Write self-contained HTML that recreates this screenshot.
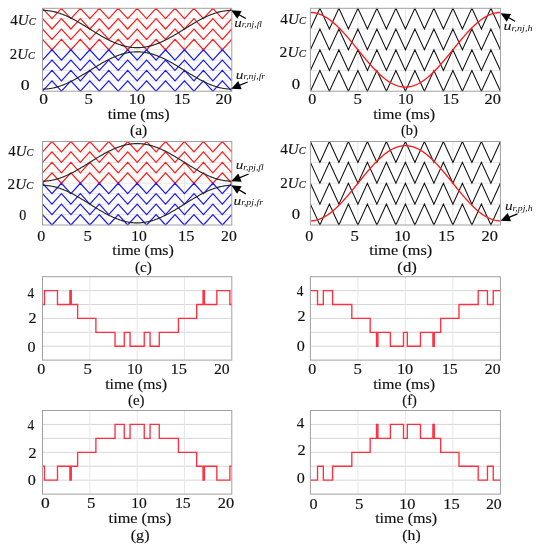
<!DOCTYPE html>
<html><head><meta charset="utf-8"><title>Carrier and reference waveforms</title>
<style>
html,body{margin:0;padding:0;background:#fff;}
svg{display:block;}
text{font-family:"Liberation Serif","DejaVu Serif",serif;fill:#111;stroke:#111;stroke-width:0.15px;}
</style></head><body>
<svg width="540" height="550" viewBox="0 0 540 550">
<defs><clipPath id="cp0"><rect x="42.5" y="7.8" width="189.3" height="83.9"/></clipPath><clipPath id="cp1"><rect x="310.4" y="7.8" width="190" height="83.9"/></clipPath><clipPath id="cp2"><rect x="42.5" y="141" width="189.3" height="84.5"/></clipPath><clipPath id="cp3"><rect x="310.4" y="141" width="190" height="84.5"/></clipPath></defs>
<rect width="540" height="550" fill="#fff"/>
<path d="M42.5 80.84H231.8M42.5 70.47H231.8M42.5 60.11H231.8M42.5 49.75H231.8M42.5 39.39H231.8M42.5 29.02H231.8M42.5 18.66H231.8" stroke="#e2e2e2" stroke-width="0.9" fill="none"/>
<path d="M89.83 8.3V91.2M137.15 8.3V91.2M184.47 8.3V91.2" stroke="#e3e3e3" stroke-width="0.9" fill="none"/>
<g clip-path="url(#cp0)">
<path d="M42.5 39.39 L51.97 49.75 L61.43 39.39 L70.9 49.75 L80.36 39.39 L89.83 49.75 L99.29 39.39 L108.76 49.75 L118.22 39.39 L127.69 49.75 L137.15 39.39 L146.62 49.75 L156.08 39.39 L165.55 49.75 L175.01 39.39 L184.47 49.75 L193.94 39.39 L203.41 49.75 L212.87 39.39 L222.34 49.75 L231.8 39.39" stroke="#ff1a1a" stroke-width="1.2" fill="none" stroke-linejoin="miter"/>
<path d="M42.5 29.02 L51.97 39.39 L61.43 29.02 L70.9 39.39 L80.36 29.02 L89.83 39.39 L99.29 29.02 L108.76 39.39 L118.22 29.02 L127.69 39.39 L137.15 29.02 L146.62 39.39 L156.08 29.02 L165.55 39.39 L175.01 29.02 L184.47 39.39 L193.94 29.02 L203.41 39.39 L212.87 29.02 L222.34 39.39 L231.8 29.02" stroke="#ff1a1a" stroke-width="1.2" fill="none" stroke-linejoin="miter"/>
<path d="M42.5 18.66 L51.97 29.02 L61.43 18.66 L70.9 29.02 L80.36 18.66 L89.83 29.02 L99.29 18.66 L108.76 29.02 L118.22 18.66 L127.69 29.02 L137.15 18.66 L146.62 29.02 L156.08 18.66 L165.55 29.02 L175.01 18.66 L184.47 29.02 L193.94 18.66 L203.41 29.02 L212.87 18.66 L222.34 29.02 L231.8 18.66" stroke="#ff1a1a" stroke-width="1.2" fill="none" stroke-linejoin="miter"/>
<path d="M42.5 8.3 L51.97 18.66 L61.43 8.3 L70.9 18.66 L80.36 8.3 L89.83 18.66 L99.29 8.3 L108.76 18.66 L118.22 8.3 L127.69 18.66 L137.15 8.3 L146.62 18.66 L156.08 8.3 L165.55 18.66 L175.01 8.3 L184.47 18.66 L193.94 8.3 L203.41 18.66 L212.87 8.3 L222.34 18.66 L231.8 8.3" stroke="#ff1a1a" stroke-width="1.2" fill="none" stroke-linejoin="miter"/>
<path d="M42.5 91.2 L51.97 80.84 L61.43 91.2 L70.9 80.84 L80.36 91.2 L89.83 80.84 L99.29 91.2 L108.76 80.84 L118.22 91.2 L127.69 80.84 L137.15 91.2 L146.62 80.84 L156.08 91.2 L165.55 80.84 L175.01 91.2 L184.47 80.84 L193.94 91.2 L203.41 80.84 L212.87 91.2 L222.34 80.84 L231.8 91.2" stroke="#1a1aff" stroke-width="1.2" fill="none" stroke-linejoin="miter"/>
<path d="M42.5 80.84 L51.97 70.47 L61.43 80.84 L70.9 70.47 L80.36 80.84 L89.83 70.47 L99.29 80.84 L108.76 70.47 L118.22 80.84 L127.69 70.47 L137.15 80.84 L146.62 70.47 L156.08 80.84 L165.55 70.47 L175.01 80.84 L184.47 70.47 L193.94 80.84 L203.41 70.47 L212.87 80.84 L222.34 70.47 L231.8 80.84" stroke="#1a1aff" stroke-width="1.2" fill="none" stroke-linejoin="miter"/>
<path d="M42.5 70.47 L51.97 60.11 L61.43 70.47 L70.9 60.11 L80.36 70.47 L89.83 60.11 L99.29 70.47 L108.76 60.11 L118.22 70.47 L127.69 60.11 L137.15 70.47 L146.62 60.11 L156.08 70.47 L165.55 60.11 L175.01 70.47 L184.47 60.11 L193.94 70.47 L203.41 60.11 L212.87 70.47 L222.34 60.11 L231.8 70.47" stroke="#1a1aff" stroke-width="1.2" fill="none" stroke-linejoin="miter"/>
<path d="M42.5 60.11 L51.97 49.75 L61.43 60.11 L70.9 49.75 L80.36 60.11 L89.83 49.75 L99.29 60.11 L108.76 49.75 L118.22 60.11 L127.69 49.75 L137.15 60.11 L146.62 49.75 L156.08 60.11 L165.55 49.75 L175.01 60.11 L184.47 49.75 L193.94 60.11 L203.41 49.75 L212.87 60.11 L222.34 49.75 L231.8 60.11" stroke="#1a1aff" stroke-width="1.2" fill="none" stroke-linejoin="miter"/>
<path d="M42.5 10.37 L43.45 10.38 L44.39 10.41 L45.34 10.46 L46.29 10.52 L47.23 10.6 L48.18 10.7 L49.13 10.82 L50.07 10.96 L51.02 11.11 L51.97 11.29 L52.91 11.48 L53.86 11.68 L54.8 11.91 L55.75 12.15 L56.7 12.41 L57.64 12.68 L58.59 12.97 L59.54 13.28 L60.48 13.6 L61.43 13.93 L62.38 14.29 L63.32 14.65 L64.27 15.03 L65.22 15.43 L66.16 15.84 L67.11 16.26 L68.06 16.69 L69 17.14 L69.95 17.59 L70.9 18.06 L71.84 18.54 L72.79 19.03 L73.73 19.53 L74.68 20.04 L75.63 20.56 L76.57 21.08 L77.52 21.62 L78.47 22.16 L79.41 22.71 L80.36 23.26 L81.31 23.82 L82.25 24.39 L83.2 24.96 L84.15 25.53 L85.09 26.11 L86.04 26.69 L86.99 27.27 L87.93 27.85 L88.88 28.44 L89.83 29.02 L90.77 29.61 L91.72 30.2 L92.66 30.78 L93.61 31.36 L94.56 31.94 L95.5 32.52 L96.45 33.09 L97.4 33.66 L98.34 34.23 L99.29 34.79 L100.24 35.34 L101.18 35.89 L102.13 36.43 L103.08 36.97 L104.02 37.49 L104.97 38.01 L105.92 38.52 L106.86 39.02 L107.81 39.51 L108.76 39.99 L109.7 40.46 L110.65 40.91 L111.59 41.36 L112.54 41.79 L113.49 42.21 L114.43 42.62 L115.38 43.02 L116.33 43.4 L117.27 43.76 L118.22 44.12 L119.17 44.45 L120.11 44.77 L121.06 45.08 L122.01 45.37 L122.95 45.64 L123.9 45.9 L124.85 46.14 L125.79 46.37 L126.74 46.57 L127.69 46.76 L128.63 46.94 L129.58 47.09 L130.52 47.23 L131.47 47.35 L132.42 47.45 L133.36 47.53 L134.31 47.59 L135.26 47.64 L136.2 47.67 L137.15 47.68 L138.1 47.67 L139.04 47.64 L139.99 47.59 L140.94 47.53 L141.88 47.45 L142.83 47.35 L143.78 47.23 L144.72 47.09 L145.67 46.94 L146.62 46.76 L147.56 46.57 L148.51 46.37 L149.45 46.14 L150.4 45.9 L151.35 45.64 L152.29 45.37 L153.24 45.08 L154.19 44.77 L155.13 44.45 L156.08 44.12 L157.03 43.76 L157.97 43.4 L158.92 43.02 L159.87 42.62 L160.81 42.21 L161.76 41.79 L162.71 41.36 L163.65 40.91 L164.6 40.46 L165.55 39.99 L166.49 39.51 L167.44 39.02 L168.38 38.52 L169.33 38.01 L170.28 37.49 L171.22 36.97 L172.17 36.43 L173.12 35.89 L174.06 35.34 L175.01 34.79 L175.96 34.23 L176.9 33.66 L177.85 33.09 L178.8 32.52 L179.74 31.94 L180.69 31.36 L181.64 30.78 L182.58 30.2 L183.53 29.61 L184.47 29.02 L185.42 28.44 L186.37 27.85 L187.31 27.27 L188.26 26.69 L189.21 26.11 L190.15 25.53 L191.1 24.96 L192.05 24.39 L192.99 23.82 L193.94 23.26 L194.89 22.71 L195.83 22.16 L196.78 21.62 L197.73 21.08 L198.67 20.56 L199.62 20.04 L200.57 19.53 L201.51 19.03 L202.46 18.54 L203.41 18.06 L204.35 17.59 L205.3 17.14 L206.24 16.69 L207.19 16.26 L208.14 15.84 L209.08 15.43 L210.03 15.03 L210.98 14.65 L211.92 14.29 L212.87 13.93 L213.82 13.6 L214.76 13.28 L215.71 12.97 L216.66 12.68 L217.6 12.41 L218.55 12.15 L219.5 11.91 L220.44 11.68 L221.39 11.48 L222.34 11.29 L223.28 11.11 L224.23 10.96 L225.17 10.82 L226.12 10.7 L227.07 10.6 L228.01 10.52 L228.96 10.46 L229.91 10.41 L230.85 10.38 L231.8 10.37" stroke="#262626" stroke-width="1.15" fill="none"/>
<path d="M42.5 89.13 L43.45 89.12 L44.39 89.09 L45.34 89.04 L46.29 88.98 L47.23 88.9 L48.18 88.8 L49.13 88.68 L50.07 88.54 L51.02 88.39 L51.97 88.21 L52.91 88.02 L53.86 87.82 L54.8 87.59 L55.75 87.35 L56.7 87.09 L57.64 86.82 L58.59 86.53 L59.54 86.22 L60.48 85.9 L61.43 85.57 L62.38 85.21 L63.32 84.85 L64.27 84.47 L65.22 84.07 L66.16 83.66 L67.11 83.24 L68.06 82.81 L69 82.36 L69.95 81.91 L70.9 81.44 L71.84 80.96 L72.79 80.47 L73.73 79.97 L74.68 79.46 L75.63 78.94 L76.57 78.42 L77.52 77.88 L78.47 77.34 L79.41 76.79 L80.36 76.24 L81.31 75.68 L82.25 75.11 L83.2 74.54 L84.15 73.97 L85.09 73.39 L86.04 72.81 L86.99 72.23 L87.93 71.65 L88.88 71.06 L89.83 70.47 L90.77 69.89 L91.72 69.3 L92.66 68.72 L93.61 68.14 L94.56 67.56 L95.5 66.98 L96.45 66.41 L97.4 65.84 L98.34 65.27 L99.29 64.71 L100.24 64.16 L101.18 63.61 L102.13 63.07 L103.08 62.53 L104.02 62.01 L104.97 61.49 L105.92 60.98 L106.86 60.48 L107.81 59.99 L108.76 59.51 L109.7 59.04 L110.65 58.59 L111.59 58.14 L112.54 57.71 L113.49 57.29 L114.43 56.88 L115.38 56.48 L116.33 56.1 L117.27 55.74 L118.22 55.38 L119.17 55.05 L120.11 54.73 L121.06 54.42 L122.01 54.13 L122.95 53.86 L123.9 53.6 L124.85 53.36 L125.79 53.13 L126.74 52.93 L127.69 52.74 L128.63 52.56 L129.58 52.41 L130.52 52.27 L131.47 52.15 L132.42 52.05 L133.36 51.97 L134.31 51.91 L135.26 51.86 L136.2 51.83 L137.15 51.82 L138.1 51.83 L139.04 51.86 L139.99 51.91 L140.94 51.97 L141.88 52.05 L142.83 52.15 L143.78 52.27 L144.72 52.41 L145.67 52.56 L146.62 52.74 L147.56 52.93 L148.51 53.13 L149.45 53.36 L150.4 53.6 L151.35 53.86 L152.29 54.13 L153.24 54.42 L154.19 54.73 L155.13 55.05 L156.08 55.38 L157.03 55.74 L157.97 56.1 L158.92 56.48 L159.87 56.88 L160.81 57.29 L161.76 57.71 L162.71 58.14 L163.65 58.59 L164.6 59.04 L165.55 59.51 L166.49 59.99 L167.44 60.48 L168.38 60.98 L169.33 61.49 L170.28 62.01 L171.22 62.53 L172.17 63.07 L173.12 63.61 L174.06 64.16 L175.01 64.71 L175.96 65.27 L176.9 65.84 L177.85 66.41 L178.8 66.98 L179.74 67.56 L180.69 68.14 L181.64 68.72 L182.58 69.3 L183.53 69.89 L184.47 70.47 L185.42 71.06 L186.37 71.65 L187.31 72.23 L188.26 72.81 L189.21 73.39 L190.15 73.97 L191.1 74.54 L192.05 75.11 L192.99 75.68 L193.94 76.24 L194.89 76.79 L195.83 77.34 L196.78 77.88 L197.73 78.42 L198.67 78.94 L199.62 79.46 L200.57 79.97 L201.51 80.47 L202.46 80.96 L203.41 81.44 L204.35 81.91 L205.3 82.36 L206.24 82.81 L207.19 83.24 L208.14 83.66 L209.08 84.07 L210.03 84.47 L210.98 84.85 L211.92 85.21 L212.87 85.57 L213.82 85.9 L214.76 86.22 L215.71 86.53 L216.66 86.82 L217.6 87.09 L218.55 87.35 L219.5 87.59 L220.44 87.82 L221.39 88.02 L222.34 88.21 L223.28 88.39 L224.23 88.54 L225.17 88.68 L226.12 88.8 L227.07 88.9 L228.01 88.98 L228.96 89.04 L229.91 89.09 L230.85 89.12 L231.8 89.13" stroke="#262626" stroke-width="1.15" fill="none"/>
</g>
<rect x="42.5" y="8.3" width="189.3" height="82.9" fill="none" stroke="#a0a0a0" stroke-width="1.0"/>
<path d="M310.4 70.47H500.4M310.4 49.75H500.4M310.4 29.02H500.4" stroke="#e2e2e2" stroke-width="0.9" fill="none"/>
<path d="M357.9 8.3V91.2M405.4 8.3V91.2M452.9 8.3V91.2" stroke="#e3e3e3" stroke-width="0.9" fill="none"/>
<g clip-path="url(#cp1)">
<path d="M310.4 91.2 L319.9 70.47 L329.4 91.2 L338.9 70.47 L348.4 91.2 L357.9 70.47 L367.4 91.2 L376.9 70.47 L386.4 91.2 L395.9 70.47 L405.4 91.2 L414.9 70.47 L424.4 91.2 L433.9 70.47 L443.4 91.2 L452.9 70.47 L462.4 91.2 L471.9 70.47 L481.4 91.2 L490.9 70.47 L500.4 91.2" stroke="#151515" stroke-width="1.1" fill="none" stroke-linejoin="miter"/>
<path d="M310.4 70.47 L319.9 49.75 L329.4 70.47 L338.9 49.75 L348.4 70.47 L357.9 49.75 L367.4 70.47 L376.9 49.75 L386.4 70.47 L395.9 49.75 L405.4 70.47 L414.9 49.75 L424.4 70.47 L433.9 49.75 L443.4 70.47 L452.9 49.75 L462.4 70.47 L471.9 49.75 L481.4 70.47 L490.9 49.75 L500.4 70.47" stroke="#151515" stroke-width="1.1" fill="none" stroke-linejoin="miter"/>
<path d="M310.4 49.75 L319.9 29.02 L329.4 49.75 L338.9 29.02 L348.4 49.75 L357.9 29.02 L367.4 49.75 L376.9 29.02 L386.4 49.75 L395.9 29.02 L405.4 49.75 L414.9 29.02 L424.4 49.75 L433.9 29.02 L443.4 49.75 L452.9 29.02 L462.4 49.75 L471.9 29.02 L481.4 49.75 L490.9 29.02 L500.4 49.75" stroke="#151515" stroke-width="1.1" fill="none" stroke-linejoin="miter"/>
<path d="M310.4 29.02 L319.9 8.3 L329.4 29.02 L338.9 8.3 L348.4 29.02 L357.9 8.3 L367.4 29.02 L376.9 8.3 L386.4 29.02 L395.9 8.3 L405.4 29.02 L414.9 8.3 L424.4 29.02 L433.9 8.3 L443.4 29.02 L452.9 8.3 L462.4 29.02 L471.9 8.3 L481.4 29.02 L490.9 8.3 L500.4 29.02" stroke="#151515" stroke-width="1.1" fill="none" stroke-linejoin="miter"/>
<path d="M310.4 12.45 L311.35 12.46 L312.3 12.52 L313.25 12.61 L314.2 12.74 L315.15 12.9 L316.1 13.11 L317.05 13.34 L318 13.62 L318.95 13.93 L319.9 14.27 L320.85 14.65 L321.8 15.06 L322.75 15.51 L323.7 16 L324.65 16.51 L325.6 17.06 L326.55 17.64 L327.5 18.25 L328.45 18.9 L329.4 19.57 L330.35 20.27 L331.3 21.01 L332.25 21.77 L333.2 22.56 L334.15 23.37 L335.1 24.21 L336.05 25.08 L337 25.97 L337.95 26.89 L338.9 27.82 L339.85 28.78 L340.8 29.76 L341.75 30.76 L342.7 31.78 L343.65 32.81 L344.6 33.87 L345.55 34.93 L346.5 36.02 L347.45 37.11 L348.4 38.22 L349.35 39.34 L350.3 40.47 L351.25 41.61 L352.2 42.76 L353.15 43.91 L354.1 45.07 L355.05 46.24 L356 47.41 L356.95 48.58 L357.9 49.75 L358.85 50.92 L359.8 52.09 L360.75 53.26 L361.7 54.43 L362.65 55.59 L363.6 56.74 L364.55 57.89 L365.5 59.03 L366.45 60.16 L367.4 61.28 L368.35 62.39 L369.3 63.48 L370.25 64.57 L371.2 65.63 L372.15 66.69 L373.1 67.72 L374.05 68.74 L375 69.74 L375.95 70.72 L376.9 71.68 L377.85 72.61 L378.8 73.53 L379.75 74.42 L380.7 75.29 L381.65 76.13 L382.6 76.94 L383.55 77.73 L384.5 78.49 L385.45 79.23 L386.4 79.93 L387.35 80.6 L388.3 81.25 L389.25 81.86 L390.2 82.44 L391.15 82.99 L392.1 83.5 L393.05 83.99 L394 84.44 L394.95 84.85 L395.9 85.23 L396.85 85.57 L397.8 85.88 L398.75 86.16 L399.7 86.39 L400.65 86.6 L401.6 86.76 L402.55 86.89 L403.5 86.98 L404.45 87.04 L405.4 87.06 L406.35 87.04 L407.3 86.98 L408.25 86.89 L409.2 86.76 L410.15 86.6 L411.1 86.39 L412.05 86.16 L413 85.88 L413.95 85.57 L414.9 85.23 L415.85 84.85 L416.8 84.44 L417.75 83.99 L418.7 83.5 L419.65 82.99 L420.6 82.44 L421.55 81.86 L422.5 81.25 L423.45 80.6 L424.4 79.93 L425.35 79.23 L426.3 78.49 L427.25 77.73 L428.2 76.94 L429.15 76.13 L430.1 75.29 L431.05 74.42 L432 73.53 L432.95 72.61 L433.9 71.68 L434.85 70.72 L435.8 69.74 L436.75 68.74 L437.7 67.72 L438.65 66.69 L439.6 65.63 L440.55 64.57 L441.5 63.48 L442.45 62.39 L443.4 61.28 L444.35 60.16 L445.3 59.03 L446.25 57.89 L447.2 56.74 L448.15 55.59 L449.1 54.43 L450.05 53.26 L451 52.09 L451.95 50.92 L452.9 49.75 L453.85 48.58 L454.8 47.41 L455.75 46.24 L456.7 45.07 L457.65 43.91 L458.6 42.76 L459.55 41.61 L460.5 40.47 L461.45 39.34 L462.4 38.22 L463.35 37.11 L464.3 36.02 L465.25 34.93 L466.2 33.87 L467.15 32.81 L468.1 31.78 L469.05 30.76 L470 29.76 L470.95 28.78 L471.9 27.82 L472.85 26.89 L473.8 25.97 L474.75 25.08 L475.7 24.21 L476.65 23.37 L477.6 22.56 L478.55 21.77 L479.5 21.01 L480.45 20.27 L481.4 19.57 L482.35 18.9 L483.3 18.25 L484.25 17.64 L485.2 17.06 L486.15 16.51 L487.1 16 L488.05 15.51 L489 15.06 L489.95 14.65 L490.9 14.27 L491.85 13.93 L492.8 13.62 L493.75 13.34 L494.7 13.11 L495.65 12.9 L496.6 12.74 L497.55 12.61 L498.5 12.52 L499.45 12.46 L500.4 12.45" stroke="#ff1a1a" stroke-width="1.35" fill="none"/>
</g>
<rect x="310.4" y="8.3" width="190" height="82.9" fill="none" stroke="#a0a0a0" stroke-width="1.0"/>
<path d="M42.5 214.56H231.8M42.5 204.12H231.8M42.5 193.69H231.8M42.5 183.25H231.8M42.5 172.81H231.8M42.5 162.38H231.8M42.5 151.94H231.8" stroke="#e2e2e2" stroke-width="0.9" fill="none"/>
<path d="M89.83 141.5V225M137.15 141.5V225M184.47 141.5V225" stroke="#e3e3e3" stroke-width="0.9" fill="none"/>
<g clip-path="url(#cp2)">
<path d="M42.5 183.25 L51.97 172.81 L61.43 183.25 L70.9 172.81 L80.36 183.25 L89.83 172.81 L99.29 183.25 L108.76 172.81 L118.22 183.25 L127.69 172.81 L137.15 183.25 L146.62 172.81 L156.08 183.25 L165.55 172.81 L175.01 183.25 L184.47 172.81 L193.94 183.25 L203.41 172.81 L212.87 183.25 L222.34 172.81 L231.8 183.25" stroke="#ff1a1a" stroke-width="1.2" fill="none" stroke-linejoin="miter"/>
<path d="M42.5 172.81 L51.97 162.38 L61.43 172.81 L70.9 162.38 L80.36 172.81 L89.83 162.38 L99.29 172.81 L108.76 162.38 L118.22 172.81 L127.69 162.38 L137.15 172.81 L146.62 162.38 L156.08 172.81 L165.55 162.38 L175.01 172.81 L184.47 162.38 L193.94 172.81 L203.41 162.38 L212.87 172.81 L222.34 162.38 L231.8 172.81" stroke="#ff1a1a" stroke-width="1.2" fill="none" stroke-linejoin="miter"/>
<path d="M42.5 162.38 L51.97 151.94 L61.43 162.38 L70.9 151.94 L80.36 162.38 L89.83 151.94 L99.29 162.38 L108.76 151.94 L118.22 162.38 L127.69 151.94 L137.15 162.38 L146.62 151.94 L156.08 162.38 L165.55 151.94 L175.01 162.38 L184.47 151.94 L193.94 162.38 L203.41 151.94 L212.87 162.38 L222.34 151.94 L231.8 162.38" stroke="#ff1a1a" stroke-width="1.2" fill="none" stroke-linejoin="miter"/>
<path d="M42.5 151.94 L51.97 141.5 L61.43 151.94 L70.9 141.5 L80.36 151.94 L89.83 141.5 L99.29 151.94 L108.76 141.5 L118.22 151.94 L127.69 141.5 L137.15 151.94 L146.62 141.5 L156.08 151.94 L165.55 141.5 L175.01 151.94 L184.47 141.5 L193.94 151.94 L203.41 141.5 L212.87 151.94 L222.34 141.5 L231.8 151.94" stroke="#ff1a1a" stroke-width="1.2" fill="none" stroke-linejoin="miter"/>
<path d="M42.5 214.56 L51.97 225 L61.43 214.56 L70.9 225 L80.36 214.56 L89.83 225 L99.29 214.56 L108.76 225 L118.22 214.56 L127.69 225 L137.15 214.56 L146.62 225 L156.08 214.56 L165.55 225 L175.01 214.56 L184.47 225 L193.94 214.56 L203.41 225 L212.87 214.56 L222.34 225 L231.8 214.56" stroke="#1a1aff" stroke-width="1.2" fill="none" stroke-linejoin="miter"/>
<path d="M42.5 204.12 L51.97 214.56 L61.43 204.12 L70.9 214.56 L80.36 204.12 L89.83 214.56 L99.29 204.12 L108.76 214.56 L118.22 204.12 L127.69 214.56 L137.15 204.12 L146.62 214.56 L156.08 204.12 L165.55 214.56 L175.01 204.12 L184.47 214.56 L193.94 204.12 L203.41 214.56 L212.87 204.12 L222.34 214.56 L231.8 204.12" stroke="#1a1aff" stroke-width="1.2" fill="none" stroke-linejoin="miter"/>
<path d="M42.5 193.69 L51.97 204.12 L61.43 193.69 L70.9 204.12 L80.36 193.69 L89.83 204.12 L99.29 193.69 L108.76 204.12 L118.22 193.69 L127.69 204.12 L137.15 193.69 L146.62 204.12 L156.08 193.69 L165.55 204.12 L175.01 193.69 L184.47 204.12 L193.94 193.69 L203.41 204.12 L212.87 193.69 L222.34 204.12 L231.8 193.69" stroke="#1a1aff" stroke-width="1.2" fill="none" stroke-linejoin="miter"/>
<path d="M42.5 183.25 L51.97 193.69 L61.43 183.25 L70.9 193.69 L80.36 183.25 L89.83 193.69 L99.29 183.25 L108.76 193.69 L118.22 183.25 L127.69 193.69 L137.15 183.25 L146.62 193.69 L156.08 183.25 L165.55 193.69 L175.01 183.25 L184.47 193.69 L193.94 183.25 L203.41 193.69 L212.87 183.25 L222.34 193.69 L231.8 183.25" stroke="#1a1aff" stroke-width="1.2" fill="none" stroke-linejoin="miter"/>
<path d="M42.5 181.16 L43.45 181.15 L44.39 181.13 L45.34 181.08 L46.29 181.01 L47.23 180.93 L48.18 180.83 L49.13 180.71 L50.07 180.57 L51.02 180.42 L51.97 180.24 L52.91 180.05 L53.86 179.84 L54.8 179.62 L55.75 179.37 L56.7 179.11 L57.64 178.84 L58.59 178.55 L59.54 178.24 L60.48 177.91 L61.43 177.57 L62.38 177.22 L63.32 176.85 L64.27 176.47 L65.22 176.07 L66.16 175.66 L67.11 175.24 L68.06 174.8 L69 174.35 L69.95 173.89 L70.9 173.42 L71.84 172.94 L72.79 172.44 L73.73 171.94 L74.68 171.43 L75.63 170.9 L76.57 170.37 L77.52 169.84 L78.47 169.29 L79.41 168.74 L80.36 168.18 L81.31 167.62 L82.25 167.05 L83.2 166.47 L84.15 165.9 L85.09 165.31 L86.04 164.73 L86.99 164.14 L87.93 163.55 L88.88 162.97 L89.83 162.38 L90.77 161.78 L91.72 161.2 L92.66 160.61 L93.61 160.02 L94.56 159.44 L95.5 158.85 L96.45 158.28 L97.4 157.7 L98.34 157.13 L99.29 156.57 L100.24 156.01 L101.18 155.46 L102.13 154.91 L103.08 154.38 L104.02 153.85 L104.97 153.32 L105.92 152.81 L106.86 152.31 L107.81 151.81 L108.76 151.33 L109.7 150.86 L110.65 150.4 L111.59 149.95 L112.54 149.51 L113.49 149.09 L114.43 148.68 L115.38 148.28 L116.33 147.9 L117.27 147.53 L118.22 147.18 L119.17 146.84 L120.11 146.51 L121.06 146.2 L122.01 145.91 L122.95 145.64 L123.9 145.38 L124.85 145.13 L125.79 144.91 L126.74 144.7 L127.69 144.51 L128.63 144.33 L129.58 144.18 L130.52 144.04 L131.47 143.92 L132.42 143.82 L133.36 143.74 L134.31 143.67 L135.26 143.62 L136.2 143.6 L137.15 143.59 L138.1 143.6 L139.04 143.62 L139.99 143.67 L140.94 143.74 L141.88 143.82 L142.83 143.92 L143.78 144.04 L144.72 144.18 L145.67 144.33 L146.62 144.51 L147.56 144.7 L148.51 144.91 L149.45 145.13 L150.4 145.38 L151.35 145.64 L152.29 145.91 L153.24 146.2 L154.19 146.51 L155.13 146.84 L156.08 147.18 L157.03 147.53 L157.97 147.9 L158.92 148.28 L159.87 148.68 L160.81 149.09 L161.76 149.51 L162.71 149.95 L163.65 150.4 L164.6 150.86 L165.55 151.33 L166.49 151.81 L167.44 152.31 L168.38 152.81 L169.33 153.32 L170.28 153.85 L171.22 154.38 L172.17 154.91 L173.12 155.46 L174.06 156.01 L175.01 156.57 L175.96 157.13 L176.9 157.7 L177.85 158.28 L178.8 158.85 L179.74 159.44 L180.69 160.02 L181.64 160.61 L182.58 161.2 L183.53 161.78 L184.47 162.38 L185.42 162.97 L186.37 163.55 L187.31 164.14 L188.26 164.73 L189.21 165.31 L190.15 165.9 L191.1 166.47 L192.05 167.05 L192.99 167.62 L193.94 168.18 L194.89 168.74 L195.83 169.29 L196.78 169.84 L197.73 170.37 L198.67 170.9 L199.62 171.43 L200.57 171.94 L201.51 172.44 L202.46 172.94 L203.41 173.42 L204.35 173.89 L205.3 174.35 L206.24 174.8 L207.19 175.24 L208.14 175.66 L209.08 176.07 L210.03 176.47 L210.98 176.85 L211.92 177.22 L212.87 177.57 L213.82 177.91 L214.76 178.24 L215.71 178.55 L216.66 178.84 L217.6 179.11 L218.55 179.37 L219.5 179.62 L220.44 179.84 L221.39 180.05 L222.34 180.24 L223.28 180.42 L224.23 180.57 L225.17 180.71 L226.12 180.83 L227.07 180.93 L228.01 181.01 L228.96 181.08 L229.91 181.13 L230.85 181.15 L231.8 181.16" stroke="#262626" stroke-width="1.15" fill="none"/>
<path d="M42.5 185.34 L43.45 185.35 L44.39 185.37 L45.34 185.42 L46.29 185.49 L47.23 185.57 L48.18 185.67 L49.13 185.79 L50.07 185.93 L51.02 186.08 L51.97 186.26 L52.91 186.45 L53.86 186.66 L54.8 186.88 L55.75 187.13 L56.7 187.39 L57.64 187.66 L58.59 187.95 L59.54 188.26 L60.48 188.59 L61.43 188.93 L62.38 189.28 L63.32 189.65 L64.27 190.03 L65.22 190.43 L66.16 190.84 L67.11 191.26 L68.06 191.7 L69 192.15 L69.95 192.61 L70.9 193.08 L71.84 193.56 L72.79 194.06 L73.73 194.56 L74.68 195.07 L75.63 195.6 L76.57 196.13 L77.52 196.66 L78.47 197.21 L79.41 197.76 L80.36 198.32 L81.31 198.88 L82.25 199.45 L83.2 200.03 L84.15 200.6 L85.09 201.19 L86.04 201.77 L86.99 202.36 L87.93 202.95 L88.88 203.53 L89.83 204.12 L90.77 204.72 L91.72 205.3 L92.66 205.89 L93.61 206.48 L94.56 207.06 L95.5 207.65 L96.45 208.22 L97.4 208.8 L98.34 209.37 L99.29 209.93 L100.24 210.49 L101.18 211.04 L102.13 211.59 L103.08 212.12 L104.02 212.65 L104.97 213.18 L105.92 213.69 L106.86 214.19 L107.81 214.69 L108.76 215.17 L109.7 215.64 L110.65 216.1 L111.59 216.55 L112.54 216.99 L113.49 217.41 L114.43 217.82 L115.38 218.22 L116.33 218.6 L117.27 218.97 L118.22 219.32 L119.17 219.66 L120.11 219.99 L121.06 220.3 L122.01 220.59 L122.95 220.86 L123.9 221.12 L124.85 221.37 L125.79 221.59 L126.74 221.8 L127.69 221.99 L128.63 222.17 L129.58 222.32 L130.52 222.46 L131.47 222.58 L132.42 222.68 L133.36 222.76 L134.31 222.83 L135.26 222.88 L136.2 222.9 L137.15 222.91 L138.1 222.9 L139.04 222.88 L139.99 222.83 L140.94 222.76 L141.88 222.68 L142.83 222.58 L143.78 222.46 L144.72 222.32 L145.67 222.17 L146.62 221.99 L147.56 221.8 L148.51 221.59 L149.45 221.37 L150.4 221.12 L151.35 220.86 L152.29 220.59 L153.24 220.3 L154.19 219.99 L155.13 219.66 L156.08 219.32 L157.03 218.97 L157.97 218.6 L158.92 218.22 L159.87 217.82 L160.81 217.41 L161.76 216.99 L162.71 216.55 L163.65 216.1 L164.6 215.64 L165.55 215.17 L166.49 214.69 L167.44 214.19 L168.38 213.69 L169.33 213.18 L170.28 212.65 L171.22 212.12 L172.17 211.59 L173.12 211.04 L174.06 210.49 L175.01 209.93 L175.96 209.37 L176.9 208.8 L177.85 208.22 L178.8 207.65 L179.74 207.06 L180.69 206.48 L181.64 205.89 L182.58 205.3 L183.53 204.72 L184.47 204.12 L185.42 203.53 L186.37 202.95 L187.31 202.36 L188.26 201.77 L189.21 201.19 L190.15 200.6 L191.1 200.03 L192.05 199.45 L192.99 198.88 L193.94 198.32 L194.89 197.76 L195.83 197.21 L196.78 196.66 L197.73 196.13 L198.67 195.6 L199.62 195.07 L200.57 194.56 L201.51 194.06 L202.46 193.56 L203.41 193.08 L204.35 192.61 L205.3 192.15 L206.24 191.7 L207.19 191.26 L208.14 190.84 L209.08 190.43 L210.03 190.03 L210.98 189.65 L211.92 189.28 L212.87 188.93 L213.82 188.59 L214.76 188.26 L215.71 187.95 L216.66 187.66 L217.6 187.39 L218.55 187.13 L219.5 186.88 L220.44 186.66 L221.39 186.45 L222.34 186.26 L223.28 186.08 L224.23 185.93 L225.17 185.79 L226.12 185.67 L227.07 185.57 L228.01 185.49 L228.96 185.42 L229.91 185.37 L230.85 185.35 L231.8 185.34" stroke="#262626" stroke-width="1.15" fill="none"/>
</g>
<rect x="42.5" y="141.5" width="189.3" height="83.5" fill="none" stroke="#a0a0a0" stroke-width="1.0"/>
<path d="M310.4 204.12H500.4M310.4 183.25H500.4M310.4 162.38H500.4" stroke="#e2e2e2" stroke-width="0.9" fill="none"/>
<path d="M357.9 141.5V225M405.4 141.5V225M452.9 141.5V225" stroke="#e3e3e3" stroke-width="0.9" fill="none"/>
<g clip-path="url(#cp3)">
<path d="M310.4 204.12 L319.9 225 L329.4 204.12 L338.9 225 L348.4 204.12 L357.9 225 L367.4 204.12 L376.9 225 L386.4 204.12 L395.9 225 L405.4 204.12 L414.9 225 L424.4 204.12 L433.9 225 L443.4 204.12 L452.9 225 L462.4 204.12 L471.9 225 L481.4 204.12 L490.9 225 L500.4 204.12" stroke="#151515" stroke-width="1.1" fill="none" stroke-linejoin="miter"/>
<path d="M310.4 183.25 L319.9 204.12 L329.4 183.25 L338.9 204.12 L348.4 183.25 L357.9 204.12 L367.4 183.25 L376.9 204.12 L386.4 183.25 L395.9 204.12 L405.4 183.25 L414.9 204.12 L424.4 183.25 L433.9 204.12 L443.4 183.25 L452.9 204.12 L462.4 183.25 L471.9 204.12 L481.4 183.25 L490.9 204.12 L500.4 183.25" stroke="#151515" stroke-width="1.1" fill="none" stroke-linejoin="miter"/>
<path d="M310.4 162.38 L319.9 183.25 L329.4 162.38 L338.9 183.25 L348.4 162.38 L357.9 183.25 L367.4 162.38 L376.9 183.25 L386.4 162.38 L395.9 183.25 L405.4 162.38 L414.9 183.25 L424.4 162.38 L433.9 183.25 L443.4 162.38 L452.9 183.25 L462.4 162.38 L471.9 183.25 L481.4 162.38 L490.9 183.25 L500.4 162.38" stroke="#151515" stroke-width="1.1" fill="none" stroke-linejoin="miter"/>
<path d="M310.4 141.5 L319.9 162.38 L329.4 141.5 L338.9 162.38 L348.4 141.5 L357.9 162.38 L367.4 141.5 L376.9 162.38 L386.4 141.5 L395.9 162.38 L405.4 141.5 L414.9 162.38 L424.4 141.5 L433.9 162.38 L443.4 141.5 L452.9 162.38 L462.4 141.5 L471.9 162.38 L481.4 141.5 L490.9 162.38 L500.4 141.5" stroke="#151515" stroke-width="1.1" fill="none" stroke-linejoin="miter"/>
<path d="M310.4 220.82 L311.35 220.81 L312.3 220.75 L313.25 220.66 L314.2 220.53 L315.15 220.36 L316.1 220.16 L317.05 219.92 L318 219.64 L318.95 219.33 L319.9 218.99 L320.85 218.6 L321.8 218.19 L322.75 217.73 L323.7 217.25 L324.65 216.73 L325.6 216.18 L326.55 215.59 L327.5 214.98 L328.45 214.33 L329.4 213.65 L330.35 212.94 L331.3 212.2 L332.25 211.44 L333.2 210.64 L334.15 209.82 L335.1 208.97 L336.05 208.1 L337 207.2 L337.95 206.28 L338.9 205.34 L339.85 204.37 L340.8 203.38 L341.75 202.38 L342.7 201.35 L343.65 200.31 L344.6 199.25 L345.55 198.17 L346.5 197.08 L347.45 195.98 L348.4 194.86 L349.35 193.73 L350.3 192.59 L351.25 191.45 L352.2 190.29 L353.15 189.13 L354.1 187.96 L355.05 186.79 L356 185.61 L356.95 184.43 L357.9 183.25 L358.85 182.07 L359.8 180.89 L360.75 179.71 L361.7 178.54 L362.65 177.37 L363.6 176.21 L364.55 175.05 L365.5 173.91 L366.45 172.77 L367.4 171.64 L368.35 170.52 L369.3 169.42 L370.25 168.33 L371.2 167.25 L372.15 166.19 L373.1 165.15 L374.05 164.12 L375 163.12 L375.95 162.13 L376.9 161.16 L377.85 160.22 L378.8 159.3 L379.75 158.4 L380.7 157.53 L381.65 156.68 L382.6 155.86 L383.55 155.06 L384.5 154.3 L385.45 153.56 L386.4 152.85 L387.35 152.17 L388.3 151.52 L389.25 150.91 L390.2 150.32 L391.15 149.77 L392.1 149.25 L393.05 148.77 L394 148.31 L394.95 147.9 L395.9 147.51 L396.85 147.17 L397.8 146.86 L398.75 146.58 L399.7 146.34 L400.65 146.14 L401.6 145.97 L402.55 145.84 L403.5 145.75 L404.45 145.69 L405.4 145.68 L406.35 145.69 L407.3 145.75 L408.25 145.84 L409.2 145.97 L410.15 146.14 L411.1 146.34 L412.05 146.58 L413 146.86 L413.95 147.17 L414.9 147.51 L415.85 147.9 L416.8 148.31 L417.75 148.77 L418.7 149.25 L419.65 149.77 L420.6 150.32 L421.55 150.91 L422.5 151.52 L423.45 152.17 L424.4 152.85 L425.35 153.56 L426.3 154.3 L427.25 155.06 L428.2 155.86 L429.15 156.68 L430.1 157.53 L431.05 158.4 L432 159.3 L432.95 160.22 L433.9 161.16 L434.85 162.13 L435.8 163.12 L436.75 164.12 L437.7 165.15 L438.65 166.19 L439.6 167.25 L440.55 168.33 L441.5 169.42 L442.45 170.52 L443.4 171.64 L444.35 172.77 L445.3 173.91 L446.25 175.05 L447.2 176.21 L448.15 177.37 L449.1 178.54 L450.05 179.71 L451 180.89 L451.95 182.07 L452.9 183.25 L453.85 184.43 L454.8 185.61 L455.75 186.79 L456.7 187.96 L457.65 189.13 L458.6 190.29 L459.55 191.45 L460.5 192.59 L461.45 193.73 L462.4 194.86 L463.35 195.98 L464.3 197.08 L465.25 198.17 L466.2 199.25 L467.15 200.31 L468.1 201.35 L469.05 202.38 L470 203.38 L470.95 204.37 L471.9 205.34 L472.85 206.28 L473.8 207.2 L474.75 208.1 L475.7 208.97 L476.65 209.82 L477.6 210.64 L478.55 211.44 L479.5 212.2 L480.45 212.94 L481.4 213.65 L482.35 214.33 L483.3 214.98 L484.25 215.59 L485.2 216.18 L486.15 216.73 L487.1 217.25 L488.05 217.73 L489 218.19 L489.95 218.6 L490.9 218.99 L491.85 219.33 L492.8 219.64 L493.75 219.92 L494.7 220.16 L495.65 220.36 L496.6 220.53 L497.55 220.66 L498.5 220.75 L499.45 220.81 L500.4 220.82" stroke="#ff1a1a" stroke-width="1.35" fill="none"/>
</g>
<rect x="310.4" y="141.5" width="190" height="83.5" fill="none" stroke="#a0a0a0" stroke-width="1.0"/>
<path d="M42.5 346.2H231.8M42.5 332.3H231.8M42.5 318.4H231.8M42.5 304.5H231.8M42.5 290.6H231.8" stroke="#d3d3d3" stroke-width="0.9" fill="none"/>
<path d="M89.83 276.7V360.1M137.15 276.7V360.1M184.47 276.7V360.1" stroke="#e3e3e3" stroke-width="0.9" fill="none"/>
<path d="M42.5 304.5 L44.43 304.5 L44.43 290.6 L57.48 290.6 L57.48 304.5 L69.9 304.5 L69.9 290.6 L71.27 290.6 L71.27 304.5 L77.62 304.5 L77.62 318.4 L95.89 318.4 L95.89 332.3 L115.04 332.3 L115.04 346.2 L124.26 346.2 L124.26 332.3 L130.05 332.3 L130.05 346.2 L144.25 346.2 L144.25 332.3 L150.05 332.3 L150.05 346.2 L159.26 346.2 L159.26 332.3 L178.42 332.3 L178.42 318.4 L196.69 318.4 L196.69 304.5 L203.03 304.5 L203.03 290.6 L204.41 290.6 L204.41 304.5 L216.83 304.5 L216.83 290.6 L229.87 290.6 L229.87 304.5 L231.8 304.5" stroke="#ff3040" stroke-width="1.35" fill="none" stroke-linejoin="miter"/>
<rect x="42.5" y="276.7" width="189.3" height="83.4" fill="none" stroke="#a0a0a0" stroke-width="1.0"/>
<path d="M310.4 346.2H500.4M310.4 332.3H500.4M310.4 318.4H500.4M310.4 304.5H500.4M310.4 290.6H500.4" stroke="#d3d3d3" stroke-width="0.9" fill="none"/>
<path d="M357.9 276.7V360.1M405.4 276.7V360.1M452.9 276.7V360.1" stroke="#e3e3e3" stroke-width="0.9" fill="none"/>
<path d="M310.4 290.6 L317.53 290.6 L317.53 304.5 L323.34 304.5 L323.34 290.6 L332.6 290.6 L332.6 304.5 L351.82 304.5 L351.82 318.4 L370.16 318.4 L370.16 332.3 L376.52 332.3 L376.52 346.2 L377.91 346.2 L377.91 332.3 L390.37 332.3 L390.37 346.2 L403.47 346.2 L403.47 332.3 L407.34 332.3 L407.34 346.2 L420.43 346.2 L420.43 332.3 L432.9 332.3 L432.9 346.2 L434.28 346.2 L434.28 332.3 L440.64 332.3 L440.64 318.4 L458.98 318.4 L458.98 304.5 L478.21 304.5 L478.21 290.6 L487.46 290.6 L487.46 304.5 L493.27 304.5 L493.27 290.6 L500.4 290.6" stroke="#ff3040" stroke-width="1.35" fill="none" stroke-linejoin="miter"/>
<rect x="310.4" y="276.7" width="190" height="83.4" fill="none" stroke="#a0a0a0" stroke-width="1.0"/>
<path d="M42.5 480.17H231.8M42.5 466.23H231.8M42.5 452.3H231.8M42.5 438.37H231.8M42.5 424.43H231.8" stroke="#d3d3d3" stroke-width="0.9" fill="none"/>
<path d="M89.83 410.5V494.1M137.15 410.5V494.1M184.47 410.5V494.1" stroke="#e3e3e3" stroke-width="0.9" fill="none"/>
<path d="M42.5 466.23 L44.43 466.23 L44.43 480.17 L57.48 480.17 L57.48 466.23 L69.9 466.23 L69.9 480.17 L71.27 480.17 L71.27 466.23 L77.62 466.23 L77.62 452.3 L95.89 452.3 L95.89 438.37 L115.04 438.37 L115.04 424.43 L124.26 424.43 L124.26 438.37 L130.05 438.37 L130.05 424.43 L144.25 424.43 L144.25 438.37 L150.05 438.37 L150.05 424.43 L159.26 424.43 L159.26 438.37 L178.42 438.37 L178.42 452.3 L196.69 452.3 L196.69 466.23 L203.03 466.23 L203.03 480.17 L204.41 480.17 L204.41 466.23 L216.83 466.23 L216.83 480.17 L229.87 480.17 L229.87 466.23 L231.8 466.23" stroke="#ff3040" stroke-width="1.35" fill="none" stroke-linejoin="miter"/>
<rect x="42.5" y="410.5" width="189.3" height="83.6" fill="none" stroke="#a0a0a0" stroke-width="1.0"/>
<path d="M310.4 480.17H500.4M310.4 466.23H500.4M310.4 452.3H500.4M310.4 438.37H500.4M310.4 424.43H500.4" stroke="#d3d3d3" stroke-width="0.9" fill="none"/>
<path d="M357.9 410.5V494.1M405.4 410.5V494.1M452.9 410.5V494.1" stroke="#e3e3e3" stroke-width="0.9" fill="none"/>
<path d="M310.4 480.17 L317.53 480.17 L317.53 466.23 L323.34 466.23 L323.34 480.17 L332.6 480.17 L332.6 466.23 L351.82 466.23 L351.82 452.3 L370.16 452.3 L370.16 438.37 L376.52 438.37 L376.52 424.43 L377.91 424.43 L377.91 438.37 L390.37 438.37 L390.37 424.43 L403.47 424.43 L403.47 438.37 L407.34 438.37 L407.34 424.43 L420.43 424.43 L420.43 438.37 L432.9 438.37 L432.9 424.43 L434.28 424.43 L434.28 438.37 L440.64 438.37 L440.64 452.3 L458.98 452.3 L458.98 466.23 L478.21 466.23 L478.21 480.17 L487.46 480.17 L487.46 466.23 L493.27 466.23 L493.27 480.17 L500.4 480.17" stroke="#ff3040" stroke-width="1.35" fill="none" stroke-linejoin="miter"/>
<rect x="310.4" y="410.5" width="190" height="83.6" fill="none" stroke="#a0a0a0" stroke-width="1.0"/>
<text x="39.3" y="104.32" font-size="14.5" textLength="8.74" lengthAdjust="spacingAndGlyphs">0</text>
<text x="84.62" y="104.32" font-size="14.5" textLength="8.4" lengthAdjust="spacingAndGlyphs">5</text>
<text x="128.76" y="104.32" font-size="14.5" textLength="16.28" lengthAdjust="spacingAndGlyphs">10</text>
<text x="173.92" y="104.32" font-size="14.5" textLength="16.44" lengthAdjust="spacingAndGlyphs">15</text>
<text x="215.46" y="104.32" font-size="14.5" textLength="16.4" lengthAdjust="spacingAndGlyphs">20</text>
<text x="308.32" y="104.32" font-size="14.5" textLength="8.04" lengthAdjust="spacingAndGlyphs">0</text>
<text x="353.62" y="104.32" font-size="14.5" textLength="8.4" lengthAdjust="spacingAndGlyphs">5</text>
<text x="398.03" y="104.32" font-size="14.5" textLength="15.58" lengthAdjust="spacingAndGlyphs">10</text>
<text x="442.6" y="104.32" font-size="14.5" textLength="16.44" lengthAdjust="spacingAndGlyphs">15</text>
<text x="484.46" y="104.32" font-size="14.5" textLength="16.4" lengthAdjust="spacingAndGlyphs">20</text>
<text x="37.32" y="241.16" font-size="14.5" textLength="8.04" lengthAdjust="spacingAndGlyphs">0</text>
<text x="83.44" y="241.16" font-size="14.5" textLength="8.4" lengthAdjust="spacingAndGlyphs">5</text>
<text x="131.19" y="241.16" font-size="14.5" textLength="15.58" lengthAdjust="spacingAndGlyphs">10</text>
<text x="178.08" y="241.16" font-size="14.5" textLength="16.44" lengthAdjust="spacingAndGlyphs">15</text>
<text x="221.14" y="241.16" font-size="14.5" textLength="15.7" lengthAdjust="spacingAndGlyphs">20</text>
<text x="305.16" y="241.34" font-size="14.5" textLength="8.04" lengthAdjust="spacingAndGlyphs">0</text>
<text x="350.64" y="241.34" font-size="14.5" textLength="8.4" lengthAdjust="spacingAndGlyphs">5</text>
<text x="394.17" y="241.34" font-size="14.5" textLength="16.28" lengthAdjust="spacingAndGlyphs">10</text>
<text x="438.26" y="241.34" font-size="14.5" textLength="16.44" lengthAdjust="spacingAndGlyphs">15</text>
<text x="481.64" y="241.34" font-size="14.5" textLength="16.4" lengthAdjust="spacingAndGlyphs">20</text>
<text x="37.32" y="374.48" font-size="14.5" textLength="8.04" lengthAdjust="spacingAndGlyphs">0</text>
<text x="83.64" y="374.48" font-size="14.5" textLength="8.4" lengthAdjust="spacingAndGlyphs">5</text>
<text x="127.03" y="374.48" font-size="14.5" textLength="15.58" lengthAdjust="spacingAndGlyphs">10</text>
<text x="170.58" y="374.48" font-size="14.5" textLength="16.44" lengthAdjust="spacingAndGlyphs">15</text>
<text x="213.98" y="374.48" font-size="14.5" textLength="15.7" lengthAdjust="spacingAndGlyphs">20</text>
<text x="308.32" y="374.48" font-size="14.5" textLength="8.04" lengthAdjust="spacingAndGlyphs">0</text>
<text x="353.46" y="374.48" font-size="14.5" textLength="8.4" lengthAdjust="spacingAndGlyphs">5</text>
<text x="396.99" y="374.48" font-size="14.5" textLength="16.28" lengthAdjust="spacingAndGlyphs">10</text>
<text x="441.94" y="374.48" font-size="14.5" textLength="15.74" lengthAdjust="spacingAndGlyphs">15</text>
<text x="484.82" y="374.48" font-size="14.5" textLength="15.7" lengthAdjust="spacingAndGlyphs">20</text>
<text x="40.96" y="508.32" font-size="14.5" textLength="8.74" lengthAdjust="spacingAndGlyphs">0</text>
<text x="87.12" y="508.32" font-size="14.5" textLength="8.4" lengthAdjust="spacingAndGlyphs">5</text>
<text x="131.19" y="508.32" font-size="14.5" textLength="15.58" lengthAdjust="spacingAndGlyphs">10</text>
<text x="174.94" y="508.32" font-size="14.5" textLength="15.74" lengthAdjust="spacingAndGlyphs">15</text>
<text x="217.8" y="508.32" font-size="14.5" textLength="16.4" lengthAdjust="spacingAndGlyphs">20</text>
<text x="309.64" y="508.84" font-size="14.5" textLength="8.04" lengthAdjust="spacingAndGlyphs">0</text>
<text x="355.12" y="508.84" font-size="14.5" textLength="8.4" lengthAdjust="spacingAndGlyphs">5</text>
<text x="399.17" y="508.84" font-size="14.5" textLength="16.28" lengthAdjust="spacingAndGlyphs">10</text>
<text x="443.26" y="508.84" font-size="14.5" textLength="16.44" lengthAdjust="spacingAndGlyphs">15</text>
<text x="485.98" y="508.84" font-size="14.5" textLength="15.7" lengthAdjust="spacingAndGlyphs">20</text>
<text x="107.86" y="119.14" font-size="14.8" textLength="61.8" lengthAdjust="spacingAndGlyphs">time (ms)</text>
<text x="373.16" y="118.76" font-size="14.8" textLength="61.88" lengthAdjust="spacingAndGlyphs">time (ms)</text>
<text x="112.3" y="255.16" font-size="14.8" textLength="61.54" lengthAdjust="spacingAndGlyphs">time (ms)</text>
<text x="369.3" y="255" font-size="14.8" textLength="62.9" lengthAdjust="spacingAndGlyphs">time (ms)</text>
<text x="105.16" y="389" font-size="14.8" textLength="61.96" lengthAdjust="spacingAndGlyphs">time (ms)</text>
<text x="373.16" y="389" font-size="14.8" textLength="61.88" lengthAdjust="spacingAndGlyphs">time (ms)</text>
<text x="108.64" y="522.5" font-size="14.8" textLength="62.72" lengthAdjust="spacingAndGlyphs">time (ms)</text>
<text x="375.16" y="522.5" font-size="14.8" textLength="62.04" lengthAdjust="spacingAndGlyphs">time (ms)</text>
<text x="130.04" y="135.42" font-size="14.3" textLength="17.2" lengthAdjust="spacingAndGlyphs">(a)</text>
<text x="401" y="135.42" font-size="14.3" textLength="16.92" lengthAdjust="spacingAndGlyphs">(b)</text>
<text x="134.96" y="272.42" font-size="14.3" textLength="16.98" lengthAdjust="spacingAndGlyphs">(c)</text>
<text x="397.38" y="271.7" font-size="14.3" textLength="19.52" lengthAdjust="spacingAndGlyphs">(d)</text>
<text x="127.96" y="405.42" font-size="14.3" textLength="16.5" lengthAdjust="spacingAndGlyphs">(e)</text>
<text x="402.34" y="405.42" font-size="14.3" textLength="14.52" lengthAdjust="spacingAndGlyphs">(f)</text>
<text x="130.76" y="540.2" font-size="14.3" textLength="18.74" lengthAdjust="spacingAndGlyphs">(g)</text>
<text x="402.38" y="539.7" font-size="14.3" textLength="18.28" lengthAdjust="spacingAndGlyphs">(h)</text>
<text x="10.32" y="25" font-size="15" textLength="25.36" lengthAdjust="spacingAndGlyphs">4<tspan font-style="italic">U</tspan><tspan font-style="italic" font-size="10.5">C</tspan></text>
<text x="9.8" y="58.5" font-size="15" textLength="25.2" lengthAdjust="spacingAndGlyphs">2<tspan font-style="italic">U</tspan><tspan font-style="italic" font-size="10.5">C</tspan></text>
<text x="20.8" y="89.5" font-size="14.5" textLength="8.9" lengthAdjust="spacingAndGlyphs">0</text>
<text x="280.32" y="24.16" font-size="15" textLength="25.68" lengthAdjust="spacingAndGlyphs">4<tspan font-style="italic">U</tspan><tspan font-style="italic" font-size="10.5">C</tspan></text>
<text x="279.62" y="57" font-size="15" textLength="26.38" lengthAdjust="spacingAndGlyphs">2<tspan font-style="italic">U</tspan><tspan font-style="italic" font-size="10.5">C</tspan></text>
<text x="291.82" y="88.5" font-size="14.5" textLength="8.38" lengthAdjust="spacingAndGlyphs">0</text>
<text x="8.34" y="155.84" font-size="15" textLength="24.98" lengthAdjust="spacingAndGlyphs">4<tspan font-style="italic">U</tspan><tspan font-style="italic" font-size="10.5">C</tspan></text>
<text x="7.64" y="188.84" font-size="15" textLength="25.68" lengthAdjust="spacingAndGlyphs">2<tspan font-style="italic">U</tspan><tspan font-style="italic" font-size="10.5">C</tspan></text>
<text x="19.32" y="219.66" font-size="14.5" textLength="7.02" lengthAdjust="spacingAndGlyphs">0</text>
<text x="280.32" y="154.48" font-size="15" textLength="25.52" lengthAdjust="spacingAndGlyphs">4<tspan font-style="italic">U</tspan><tspan font-style="italic" font-size="10.5">C</tspan></text>
<text x="280.32" y="187.68" font-size="15" textLength="25.52" lengthAdjust="spacingAndGlyphs">2<tspan font-style="italic">U</tspan><tspan font-style="italic" font-size="10.5">C</tspan></text>
<text x="291.82" y="219.16" font-size="14.5" textLength="8.38" lengthAdjust="spacingAndGlyphs">0</text>
<text x="27.5" y="297.84" font-size="14.5" textLength="6.66" lengthAdjust="spacingAndGlyphs">4</text>
<text x="28.48" y="323" font-size="14.5" textLength="8.06" lengthAdjust="spacingAndGlyphs">2</text>
<text x="27.64" y="352.16" font-size="14.5" textLength="8.06" lengthAdjust="spacingAndGlyphs">0</text>
<text x="296.82" y="295.84" font-size="14.5" textLength="6.66" lengthAdjust="spacingAndGlyphs">4</text>
<text x="297.64" y="321.32" font-size="14.5" textLength="8.06" lengthAdjust="spacingAndGlyphs">2</text>
<text x="296.8" y="351" font-size="14.5" textLength="8.06" lengthAdjust="spacingAndGlyphs">0</text>
<text x="27.5" y="429.84" font-size="14.5" textLength="6.66" lengthAdjust="spacingAndGlyphs">4</text>
<text x="28.48" y="457.68" font-size="14.5" textLength="8.06" lengthAdjust="spacingAndGlyphs">2</text>
<text x="27.8" y="485.32" font-size="14.5" textLength="8.06" lengthAdjust="spacingAndGlyphs">0</text>
<text x="296.66" y="428.16" font-size="14.5" textLength="7.52" lengthAdjust="spacingAndGlyphs">4</text>
<text x="297.48" y="455.32" font-size="14.5" textLength="8.22" lengthAdjust="spacingAndGlyphs">2</text>
<text x="296.8" y="483.32" font-size="14.5" textLength="8.06" lengthAdjust="spacingAndGlyphs">0</text>
<text style="stroke-width:0.05px" x="234.3" y="26.8" font-size="13.5" textLength="27.7" lengthAdjust="spacingAndGlyphs" font-style="italic">u<tspan font-size="8.6" dy="0.5" style="stroke-width:0">r,nj,fl</tspan></text>
<text style="stroke-width:0.05px" x="235.82" y="78.5" font-size="13.5" textLength="29.34" lengthAdjust="spacingAndGlyphs" font-style="italic">u<tspan font-size="8.6" dy="0.5" style="stroke-width:0">r,nj,fr</tspan></text>
<text style="stroke-width:0.05px" x="503.62" y="30" font-size="13.5" textLength="28.92" lengthAdjust="spacingAndGlyphs" font-style="italic">u<tspan font-size="8.6" dy="0.5" style="stroke-width:0">r,nj,h</tspan></text>
<text style="stroke-width:0.05px" x="235.82" y="169.3" font-size="13.5" textLength="27.86" lengthAdjust="spacingAndGlyphs" font-style="italic">u<tspan font-size="8.6" dy="0.5" style="stroke-width:0">r,pj,fl</tspan></text>
<text style="stroke-width:0.05px" x="233.46" y="204.8" font-size="13.5" textLength="29.54" lengthAdjust="spacingAndGlyphs" font-style="italic">u<tspan font-size="8.6" dy="0.5" style="stroke-width:0">r,pj,fr</tspan></text>
<text style="stroke-width:0.05px" x="504.96" y="210.4" font-size="13.5" textLength="27.74" lengthAdjust="spacingAndGlyphs" font-style="italic">u<tspan font-size="8.6" dy="0.5" style="stroke-width:0">r,pj,h</tspan></text>
<path d="M245.8 18.5L237.74 13.97" stroke="#000" stroke-width="1.3"/>
<path d="M231.2 10.3L241.64 11.12L237.33 18.79Z" fill="#000"/>
<path d="M247.7 82L238.13 85.94" stroke="#000" stroke-width="1.3"/>
<path d="M231.2 88.8L238.31 81.11L241.66 89.25Z" fill="#000"/>
<path d="M515 21.3L507.14 16.88" stroke="#000" stroke-width="1.3"/>
<path d="M500.6 13.2L511.04 14.02L506.72 21.69Z" fill="#000"/>
<path d="M248.6 174L238.13 178.33" stroke="#000" stroke-width="1.3"/>
<path d="M231.2 181.2L238.3 173.5L241.66 181.63Z" fill="#000"/>
<path d="M245.8 193.9L237.64 189.04" stroke="#000" stroke-width="1.3"/>
<path d="M231.2 185.2L241.61 186.28L237.11 193.84Z" fill="#000"/>
<path d="M517.5 213.8L507.54 217.87" stroke="#000" stroke-width="1.3"/>
<path d="M500.6 220.7L507.73 213.04L511.06 221.18Z" fill="#000"/>
</svg>
</body></html>
